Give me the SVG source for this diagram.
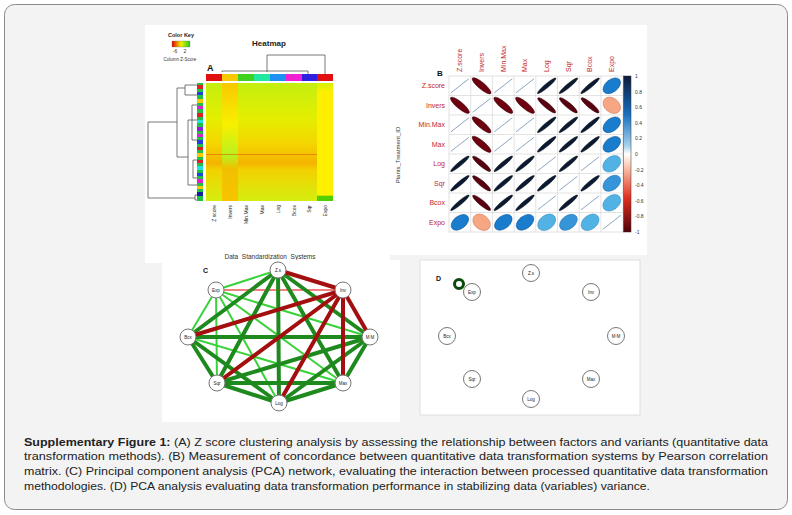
<svg xmlns="http://www.w3.org/2000/svg" xmlns:xlink="http://www.w3.org/1999/xlink" width="792" height="515" viewBox="0 0 792 515">
<style>
text{font-family:"Liberation Sans",Arial,sans-serif}
.cap{font-size:11px;fill:#222}
.dg{stroke:#555;stroke-width:0.8;fill:none}
.cl{font-size:5px;fill:#222}
.rl{font-size:7px;fill:#c0282c}
.tk{font-size:5px;fill:#333}
.nc{fill:#fff;stroke:#777;stroke-width:1}
.nt{font-size:4.5px;fill:#222;text-anchor:middle}
.g{stroke:#1e8a1e;stroke-width:4}
.lg{stroke:#3ad23a;stroke-width:2}
.r{stroke:#a30f0f;stroke-width:4}
.lr{stroke:#f28080;stroke-width:2}
.grid{stroke:#d0d0d0;stroke-width:0.6;fill:none}
</style>
<defs>
<linearGradient id="hg" x1="0" y1="0" x2="0" y2="1">
<stop offset="0" stop-color="#c4ee10"/><stop offset="0.3" stop-color="#e4ee00"/><stop offset="0.5" stop-color="#f4d800"/><stop offset="0.68" stop-color="#f4b400"/><stop offset="0.74" stop-color="#f2d200"/><stop offset="1" stop-color="#d4ee10"/>
</linearGradient>
<linearGradient id="hi" x1="0" y1="0" x2="0" y2="1">
<stop offset="0" stop-color="#f8c800"/><stop offset="0.35" stop-color="#f8f000"/><stop offset="0.62" stop-color="#b8f020"/><stop offset="0.72" stop-color="#f0c000"/><stop offset="1" stop-color="#f8c400"/>
</linearGradient>
<linearGradient id="he" x1="0" y1="0" x2="0" y2="1">
<stop offset="0" stop-color="#d4f000"/><stop offset="0.08" stop-color="#ffee00"/><stop offset="0.95" stop-color="#fff000"/><stop offset="0.96" stop-color="#50d000"/><stop offset="1" stop-color="#50d000"/>
</linearGradient>
<linearGradient id="ck" x1="0" y1="0" x2="1" y2="0">
<stop offset="0" stop-color="#e00000"/><stop offset="0.5" stop-color="#f0f000"/><stop offset="1" stop-color="#20d020"/>
</linearGradient>
<linearGradient id="cb" x1="0" y1="0" x2="0" y2="1">
<stop offset="0" stop-color="#0a1a3a"/><stop offset="0.25" stop-color="#1870c0"/><stop offset="0.45" stop-color="#a8d4ee"/><stop offset="0.5" stop-color="#ffffff"/><stop offset="0.6" stop-color="#f8b8a0"/><stop offset="0.78" stop-color="#e03020"/><stop offset="1" stop-color="#500008"/>
</linearGradient>
<line id="pl" x1="-9" y1="7" x2="9" y2="-7" stroke="#6e8fb0" stroke-width="0.8"/>
<ellipse id="pn" rx="12" ry="2" fill="#0a1a33" stroke="#000" stroke-width="0.4" transform="rotate(-40)"/>
<ellipse id="pr" rx="12" ry="3.3" fill="#6e0010" stroke="#300" stroke-width="0.5" transform="rotate(40)"/>
<ellipse id="pr2" rx="11.5" ry="2.6" fill="#5a0010" stroke="#200" stroke-width="0.5" transform="rotate(40)"/>
<ellipse id="e7" rx="10" ry="6.3" fill="#1a7ccc" stroke="#0a4f90" stroke-width="0.5" transform="rotate(-38)"/>
<ellipse id="e6" rx="10" ry="6.6" fill="#3694d8" stroke="#1a68a8" stroke-width="0.5" transform="rotate(-38)"/>
<ellipse id="e5" rx="10" ry="7" fill="#52b2e4" stroke="#2a88c0" stroke-width="0.5" transform="rotate(-38)"/>
<ellipse id="em" rx="9.6" ry="7.2" fill="#f6a682" stroke="#d07050" stroke-width="0.5" transform="rotate(38)"/>
</defs>

<rect x="0" y="0" width="792" height="515" fill="#ffffff"/>
<rect x="4.5" y="4.5" width="783" height="505" rx="10" fill="#f3f3f3" stroke="#8a8a8a" stroke-width="1"/>

<!-- Panel A -->
<g id="panelA">
<rect x="145" y="25" width="245" height="238" fill="#fff"/>
<text x="181" y="37" font-size="5.5" font-weight="bold" text-anchor="middle" fill="#222">Color Key</text>
<rect x="172" y="41" width="18" height="6" fill="url(#ck)" stroke="#666" stroke-width="0.3"/>
<text x="175" y="53" class="tk" text-anchor="middle">-6</text>
<text x="185" y="53" class="tk" text-anchor="middle">2</text>
<text x="180" y="61" font-size="4.5" text-anchor="middle" fill="#333">Column Z-Score</text>
<text x="269" y="46" font-size="8" font-weight="bold" text-anchor="middle" fill="#222">Heatmap</text>
<text x="207" y="71" font-size="9" font-weight="bold" fill="#111">A</text>
<g class="dg">
<path d="M267,72 V55 H325 V74"/>
<path d="M222,72 V71 H308 V74"/>
<path d="M148,122 V198 M148,122 H177 M148,198 H195 M177,88 V157 M177,88 H185 M177,157 H188 M185,85 V95 M185,85 H197 M185,95 H197 M188,120 V185 M188,120 H197 M188,185 H197 M192,105 V140 M192,105 H197 M192,140 H197 M193,160 V178 M193,160 H197 M193,178 H197 M195,195 V200 M195,195 H197 M195,200 H197"/>
</g>
<g>
<rect x="206" y="74" width="16" height="7" fill="#e01010"/>
<rect x="222" y="74" width="16" height="7" fill="#f8c800"/>
<rect x="238" y="74" width="16" height="7" fill="#40d020"/>
<rect x="254" y="74" width="16" height="7" fill="#20e8a0"/>
<rect x="270" y="74" width="16" height="7" fill="#2090f0"/>
<rect x="286" y="74" width="16" height="7" fill="#f020d0"/>
<rect x="302" y="74" width="15" height="7" fill="#3020e0"/>
<rect x="317" y="74" width="16" height="7" fill="#e01010"/>
</g>
<g>
<rect x="197" y="83" width="6" height="118" fill="#20c040"/>
<rect x="197" y="85" width="6" height="4" fill="#e02020"/>
<rect x="197" y="92" width="6" height="3" fill="#2040e0"/>
<rect x="197" y="99" width="6" height="4" fill="#f8c800"/>
<rect x="197" y="106" width="6" height="3" fill="#e020d0"/>
<rect x="197" y="113" width="6" height="4" fill="#e02020"/>
<rect x="197" y="120" width="6" height="3" fill="#20e0e0"/>
<rect x="197" y="127" width="6" height="4" fill="#9020e0"/>
<rect x="197" y="134" width="6" height="3" fill="#e020d0"/>
<rect x="197" y="140" width="6" height="4" fill="#2040e0"/>
<rect x="197" y="147" width="6" height="3" fill="#e02020"/>
<rect x="197" y="153" width="6" height="4" fill="#f8c800"/>
<rect x="197" y="160" width="6" height="3" fill="#e02020"/>
<rect x="197" y="166" width="6" height="4" fill="#20e0e0"/>
<rect x="197" y="173" width="6" height="3" fill="#2040e0"/>
<rect x="197" y="179" width="6" height="4" fill="#e020d0"/>
<rect x="197" y="186" width="6" height="3" fill="#f8c800"/>
<rect x="197" y="192" width="6" height="4" fill="#1020a0"/>
</g>
<rect x="206" y="83" width="127" height="118" fill="url(#hg)"/>
<rect x="222" y="83" width="16" height="118" fill="url(#hi)"/>
<rect x="317" y="83" width="16" height="118" fill="url(#he)"/>
<rect x="206" y="154" width="111" height="1" fill="#e07000" opacity="0.7"/>
<g class="cl">
<text transform="translate(216,205) rotate(-90)" text-anchor="end">Z score</text>
<text transform="translate(232,205) rotate(-90)" text-anchor="end">Invers</text>
<text transform="translate(248,205) rotate(-90)" text-anchor="end">Min.Max</text>
<text transform="translate(264,205) rotate(-90)" text-anchor="end">Max</text>
<text transform="translate(280,205) rotate(-90)" text-anchor="end">Log</text>
<text transform="translate(296,205) rotate(-90)" text-anchor="end">Bcox</text>
<text transform="translate(311,205) rotate(-90)" text-anchor="end">Sqr</text>
<text transform="translate(327,205) rotate(-90)" text-anchor="end">Expo</text>
</g>
<text x="270" y="259" font-size="6.5" text-anchor="middle" fill="#333">Data_Standardization_Systems</text>
</g>

<!-- Panel B -->
<g id="panelB">
<rect x="390" y="25" width="257" height="230" fill="#fff"/>
<text x="437" y="76" font-size="8" font-weight="bold" fill="#111">B</text>
<text transform="translate(400,155) rotate(-90)" font-size="6" text-anchor="middle" fill="#333">Plants_Treatment_ID</text>
<g class="rl" text-anchor="end">
<text x="445" y="88">Z.score</text>
<text x="445" y="108">Invers</text>
<text x="445" y="127">Min.Max</text>
<text x="445" y="147">Max</text>
<text x="445" y="166">Log</text>
<text x="445" y="186">Sqr</text>
<text x="445" y="205">Bcox</text>
<text x="445" y="225">Expo</text>
</g>
<g class="rl">
<text transform="translate(462,72) rotate(-90)">Z.score</text>
<text transform="translate(484,72) rotate(-90)">Invers</text>
<text transform="translate(506,72) rotate(-90)">Min.Max</text>
<text transform="translate(527,72) rotate(-90)">Max</text>
<text transform="translate(549,72) rotate(-90)">Log</text>
<text transform="translate(571,72) rotate(-90)">Sqr</text>
<text transform="translate(592,72) rotate(-90)">Bcox</text>
<text transform="translate(614,72) rotate(-90)">Expo</text>
</g>
<rect x="449" y="76" width="174" height="156" fill="#fff" stroke="#ccc" stroke-width="0.6"/>
<path class="grid" d="M470.7,76V232M492.4,76V232M514.1,76V232M535.8,76V232M557.5,76V232M579.2,76V232M600.9,76V232M449,95.5H623M449,115H623M449,134.5H623M449,154H623M449,173.5H623M449,193H623M449,212.5H623"/>
<g>
<!-- row Z -->
<use xlink:href="#pl" x="459.9" y="85.8"/><use xlink:href="#pr" x="481.6" y="85.8"/><use xlink:href="#pl" x="503.3" y="85.8"/><use xlink:href="#pl" x="525" y="85.8"/><use xlink:href="#pn" x="546.7" y="85.8"/><use xlink:href="#pn" x="568.4" y="85.8"/><use xlink:href="#pn" x="590.1" y="85.8"/><use xlink:href="#e7" x="611.8" y="85.8"/>
<!-- row Inv -->
<use xlink:href="#pr" x="459.9" y="105.3"/><use xlink:href="#pl" x="481.6" y="105.3"/><use xlink:href="#pr" x="503.3" y="105.3"/><use xlink:href="#pr" x="525" y="105.3"/><use xlink:href="#pr2" x="546.7" y="105.3"/><use xlink:href="#pr2" x="568.4" y="105.3"/><use xlink:href="#pr2" x="590.1" y="105.3"/><use xlink:href="#em" x="611.8" y="105.3"/>
<!-- row MM -->
<use xlink:href="#pl" x="459.9" y="124.8"/><use xlink:href="#pr" x="481.6" y="124.8"/><use xlink:href="#pl" x="503.3" y="124.8"/><use xlink:href="#pl" x="525" y="124.8"/><use xlink:href="#pn" x="546.7" y="124.8"/><use xlink:href="#pn" x="568.4" y="124.8"/><use xlink:href="#pn" x="590.1" y="124.8"/><use xlink:href="#e7" x="611.8" y="124.8"/>
<!-- row Max -->
<use xlink:href="#pl" x="459.9" y="144.3"/><use xlink:href="#pr" x="481.6" y="144.3"/><use xlink:href="#pl" x="503.3" y="144.3"/><use xlink:href="#pl" x="525" y="144.3"/><use xlink:href="#pn" x="546.7" y="144.3"/><use xlink:href="#pn" x="568.4" y="144.3"/><use xlink:href="#pn" x="590.1" y="144.3"/><use xlink:href="#e7" x="611.8" y="144.3"/>
<!-- row Log -->
<use xlink:href="#pn" x="459.9" y="163.8"/><use xlink:href="#pr2" x="481.6" y="163.8"/><use xlink:href="#pn" x="503.3" y="163.8"/><use xlink:href="#pn" x="525" y="163.8"/><use xlink:href="#pl" x="546.7" y="163.8"/><use xlink:href="#pn" x="568.4" y="163.8"/><use xlink:href="#pl" x="590.1" y="163.8"/><use xlink:href="#e5" x="611.8" y="163.8"/>
<!-- row Sqr -->
<use xlink:href="#pn" x="459.9" y="183.3"/><use xlink:href="#pr2" x="481.6" y="183.3"/><use xlink:href="#pn" x="503.3" y="183.3"/><use xlink:href="#pn" x="525" y="183.3"/><use xlink:href="#pn" x="546.7" y="183.3"/><use xlink:href="#pl" x="568.4" y="183.3"/><use xlink:href="#pn" x="590.1" y="183.3"/><use xlink:href="#e6" x="611.8" y="183.3"/>
<!-- row Bcox -->
<use xlink:href="#pn" x="459.9" y="202.8"/><use xlink:href="#pr2" x="481.6" y="202.8"/><use xlink:href="#pn" x="503.3" y="202.8"/><use xlink:href="#pn" x="525" y="202.8"/><use xlink:href="#pl" x="546.7" y="202.8"/><use xlink:href="#pn" x="568.4" y="202.8"/><use xlink:href="#pl" x="590.1" y="202.8"/><use xlink:href="#e5" x="611.8" y="202.8"/>
<!-- row Expo -->
<use xlink:href="#e7" x="459.9" y="222.3"/><use xlink:href="#em" x="481.6" y="222.3"/><use xlink:href="#e7" x="503.3" y="222.3"/><use xlink:href="#e7" x="525" y="222.3"/><use xlink:href="#e5" x="546.7" y="222.3"/><use xlink:href="#e6" x="568.4" y="222.3"/><use xlink:href="#e5" x="590.1" y="222.3"/><use xlink:href="#pl" x="611.8" y="222.3"/>
</g>
<rect x="623.5" y="76" width="7.5" height="156" fill="url(#cb)" stroke="#333" stroke-width="0.5"/>
<g class="tk">
<text x="635" y="78">1</text><text x="635" y="94">0.8</text><text x="635" y="109">0.6</text><text x="635" y="125">0.4</text><text x="635" y="140">0.2</text><text x="635" y="156">0</text><text x="635" y="172">-0.2</text><text x="635" y="187">-0.4</text><text x="635" y="203">-0.6</text><text x="635" y="218">-0.8</text><text x="635" y="234">-1</text>
</g>
</g>

<!-- Panel C -->
<g id="panelC">
<rect x="162" y="260" width="238" height="162" fill="#fff"/>
<text x="203" y="273" font-size="7" font-weight="bold" fill="#111">C</text>
<g id="connectorsC" stroke-linecap="round">
<line class="lr" x1="216" y1="290" x2="343" y2="290"/>
<line class="lg" x1="216" y1="290" x2="278" y2="270"/>
<line class="lg" x1="216" y1="290" x2="188" y2="337"/>
<line class="lg" x1="216" y1="290" x2="217" y2="383"/>
<line class="lg" x1="216" y1="290" x2="279" y2="403"/>
<line class="lg" x1="216" y1="290" x2="370" y2="337"/>
<line class="lg" x1="216" y1="290" x2="343" y2="383"/>
<line class="lg" x1="217" y1="383" x2="343" y2="383"/>
<line class="lg" x1="188" y1="337" x2="343" y2="383"/>
<line class="g" x1="278" y1="270" x2="188" y2="337"/>
<line class="g" x1="278" y1="270" x2="217" y2="383"/>
<line class="g" x1="278" y1="270" x2="279" y2="403"/>
<line class="g" x1="278" y1="270" x2="370" y2="337"/>
<line class="g" x1="278" y1="270" x2="343" y2="383"/>
<line class="g" x1="188" y1="337" x2="370" y2="337"/>
<line class="g" x1="188" y1="337" x2="279" y2="403"/>
<line class="g" x1="188" y1="337" x2="217" y2="383"/>
<line class="g" x1="217" y1="383" x2="370" y2="337"/>
<line class="g" x1="217" y1="383" x2="279" y2="403"/>
<line class="g" x1="279" y1="403" x2="370" y2="337"/>
<line class="g" x1="279" y1="403" x2="343" y2="383"/>
<line class="g" x1="343" y1="383" x2="370" y2="337"/>
<line class="g" x1="217" y1="383" x2="343" y2="383" stroke-width="3"/>
<line class="r" x1="278" y1="270" x2="343" y2="290"/>
<line class="r" x1="343" y1="290" x2="188" y2="337"/>
<line class="r" x1="343" y1="290" x2="217" y2="383"/>
<line class="r" x1="343" y1="290" x2="279" y2="403"/>
<line class="r" x1="343" y1="290" x2="343" y2="383"/>
<line class="r" x1="343" y1="290" x2="370" y2="337"/>
</g>
<g id="nC_Zs"><circle class="nc" cx="278" cy="270" r="8"/><text class="nt" x="278" y="271.6">Z.s</text></g>
<g id="nC_Inv"><circle class="nc" cx="343" cy="290" r="8"/><text class="nt" x="343" y="291.6">Inv</text></g>
<g id="nC_MM"><circle class="nc" cx="370" cy="337" r="8"/><text class="nt" x="370" y="338.6">M M</text></g>
<g id="nC_Max"><circle class="nc" cx="343" cy="383" r="8"/><text class="nt" x="343" y="384.6">Max</text></g>
<g id="nC_Log"><circle class="nc" cx="279" cy="403" r="8"/><text class="nt" x="279" y="404.6">Log</text></g>
<g id="nC_Sqr"><circle class="nc" cx="217" cy="383" r="8"/><text class="nt" x="217" y="384.6">Sqr</text></g>
<g id="nC_Bcx"><circle class="nc" cx="188" cy="337" r="8"/><text class="nt" x="188" y="338.6">Bcx</text></g>
<g id="nC_Exp"><circle class="nc" cx="216" cy="290" r="8"/><text class="nt" x="216" y="291.6">Exp</text></g>
</g>

<!-- Panel D -->
<g id="panelD">
<rect x="420" y="260" width="220" height="155" fill="#fff" stroke="#d8d8d8" stroke-width="0.8"/>
<text x="436" y="281" font-size="7" font-weight="bold" fill="#111">D</text>
<circle cx="459" cy="284" r="4.5" fill="none" stroke="#0a4a0a" stroke-width="3"/>
<g id="nD_Zs"><circle class="nc" cx="531" cy="273" r="8.5"/><text class="nt" x="531" y="274.6">Z.s</text></g>
<g id="nD_Inv"><circle class="nc" cx="591" cy="292" r="8.5"/><text class="nt" x="591" y="293.6">Inv</text></g>
<g id="nD_MM"><circle class="nc" cx="616" cy="336" r="8.5"/><text class="nt" x="616" y="337.6">M M</text></g>
<g id="nD_Max"><circle class="nc" cx="591" cy="379" r="8.5"/><text class="nt" x="591" y="380.6">Max</text></g>
<g id="nD_Log"><circle class="nc" cx="531" cy="399" r="8.5"/><text class="nt" x="531" y="400.6">Log</text></g>
<g id="nD_Sqr"><circle class="nc" cx="472" cy="379" r="8.5"/><text class="nt" x="472" y="380.6">Sqr</text></g>
<g id="nD_Bcx"><circle class="nc" cx="447" cy="336" r="8.5"/><text class="nt" x="447" y="337.6">Bcx</text></g>
<g id="nD_Exp"><circle class="nc" cx="472" cy="292" r="8.5"/><text class="nt" x="472" y="293.6">Exp</text></g>
</g>

<!-- Caption -->
<g id="caption" class="cap">
<text x="24" y="446" textLength="744" lengthAdjust="spacingAndGlyphs"><tspan font-weight="bold">Supplementary Figure 1:</tspan> (A) Z score clustering analysis by assessing the relationship between factors and variants (quantitative data</text>
<text x="24" y="460" textLength="744" lengthAdjust="spacingAndGlyphs">transformation methods). (B) Measurement of concordance between quantitative data transformation systems by Pearson correlation</text>
<text x="24" y="475" textLength="744" lengthAdjust="spacingAndGlyphs">matrix. (C) Principal component analysis (PCA) network, evaluating the interaction between processed quantitative data transformation</text>
<text x="24" y="490" textLength="626" lengthAdjust="spacingAndGlyphs">methodologies. (D) PCA analysis evaluating data transformation performance in stabilizing data (variables) variance.</text>
</g>
</svg>
